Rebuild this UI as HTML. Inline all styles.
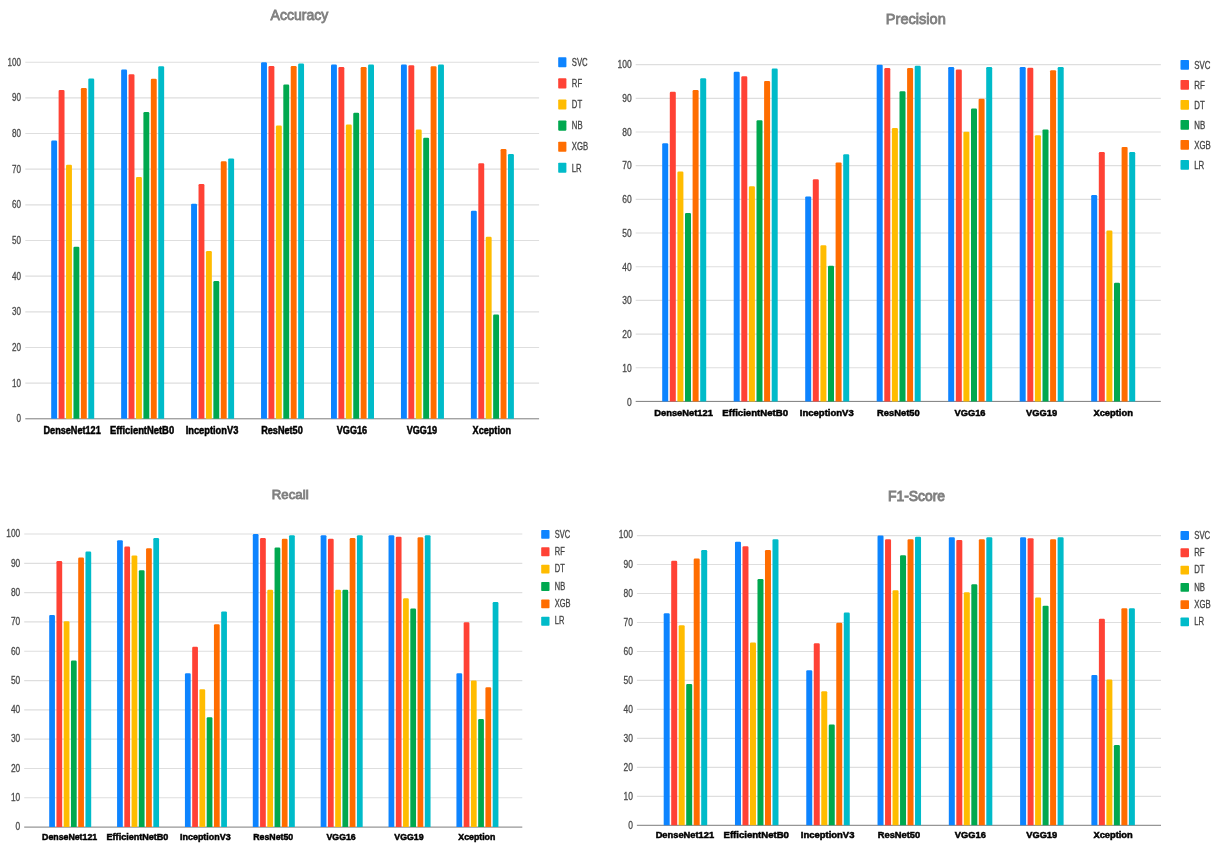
<!DOCTYPE html>
<html lang="en">
<head>
<meta charset="utf-8">
<title>Classifier metrics by backbone</title>
<style>
html,body{margin:0;padding:0;background:#fff;}
body{width:1217px;height:849px;overflow:hidden;}
svg{display:block;font-family:"Liberation Sans",Arial,Helvetica,sans-serif;}
.g{stroke:#dedede;stroke-width:1.15;}
.ax{stroke:#7c7c7c;stroke-width:1;}
.yl{fill:#4a4a4a;stroke:#4a4a4a;stroke-width:1.2;text-anchor:end;}
.xl{fill:#000;stroke:#000;stroke-width:1.9;font-weight:bold;text-anchor:middle;}
.lg{fill:#444;stroke:#444;stroke-width:1.2;}
.tt{fill:#808080;stroke:#808080;text-anchor:middle;}
</style>
</head>
<body>
<svg width="1217" height="849" viewBox="0 0 1217 849">
<defs><filter id="soft" x="-2%" y="-2%" width="104%" height="104%"><feGaussianBlur stdDeviation="0.6"/></filter></defs>
<rect width="1217" height="849" fill="#fff"/>
<g filter="url(#soft)">
<g>
<text class="tt" font-size="61.6" stroke-width="3.45" transform="translate(299.4 19.8) scale(0.2282 0.2500)">Accuracy</text>
<line class="ax" x1="25.3" x2="539.1" y1="418.8" y2="418.8"/><text class="yl" font-size="42" transform="translate(21.1 422.2) scale(0.1925 0.2500)">0</text>
<line class="g" x1="25.3" x2="539.1" y1="383.14" y2="383.14"/><text class="yl" font-size="42" transform="translate(21.1 386.56) scale(0.1925 0.2500)">10</text>
<line class="g" x1="25.3" x2="539.1" y1="347.48" y2="347.48"/><text class="yl" font-size="42" transform="translate(21.1 350.93) scale(0.1925 0.2500)">20</text>
<line class="g" x1="25.3" x2="539.1" y1="311.82" y2="311.82"/><text class="yl" font-size="42" transform="translate(21.1 315.29) scale(0.1925 0.2500)">30</text>
<line class="g" x1="25.3" x2="539.1" y1="276.16" y2="276.16"/><text class="yl" font-size="42" transform="translate(21.1 279.66) scale(0.1925 0.2500)">40</text>
<line class="g" x1="25.3" x2="539.1" y1="240.5" y2="240.5"/><text class="yl" font-size="42" transform="translate(21.1 244.03) scale(0.1925 0.2500)">50</text>
<line class="g" x1="25.3" x2="539.1" y1="204.84" y2="204.84"/><text class="yl" font-size="42" transform="translate(21.1 208.39) scale(0.1925 0.2500)">60</text>
<line class="g" x1="25.3" x2="539.1" y1="169.18" y2="169.18"/><text class="yl" font-size="42" transform="translate(21.1 172.75) scale(0.1925 0.2500)">70</text>
<line class="g" x1="25.3" x2="539.1" y1="133.52" y2="133.52"/><text class="yl" font-size="42" transform="translate(21.1 137.12) scale(0.1925 0.2500)">80</text>
<line class="g" x1="25.3" x2="539.1" y1="97.86" y2="97.86"/><text class="yl" font-size="42" transform="translate(21.1 101.49) scale(0.1925 0.2500)">90</text>
<line class="g" x1="25.3" x2="539.1" y1="62.2" y2="62.2"/><text class="yl" font-size="42" transform="translate(21.1 65.85) scale(0.1925 0.2500)">100</text>
<path fill="#0d84ff" d="M51.2 418.8V141.75Q51.2 140.55 52.4 140.55H55.9Q57.1 140.55 57.1 141.75V418.8Z"/><path fill="#ff4336" d="M58.62 418.8V91.11Q58.62 89.91 59.82 89.91H63.32Q64.52 89.91 64.52 91.11V418.8Z"/><path fill="#ffbc00" d="M66.04 418.8V165.99Q66.04 164.79 67.24 164.79H70.74Q71.94 164.79 71.94 165.99V418.8Z"/><path fill="#00a84f" d="M73.46 418.8V248.01Q73.46 246.81 74.66 246.81H78.16Q79.36 246.81 79.36 248.01V418.8Z"/><path fill="#ff6d00" d="M80.88 418.8V89.32Q80.88 88.12 82.08 88.12H85.58Q86.78 88.12 86.78 89.32V418.8Z"/><path fill="#00bbc9" d="M88.3 418.8V79.7Q88.3 78.5 89.5 78.5H93Q94.2 78.5 94.2 79.7V418.8Z"/>
<path fill="#0d84ff" d="M121.15 418.8V70.78Q121.15 69.58 122.35 69.58H125.85Q127.05 69.58 127.05 70.78V418.8Z"/><path fill="#ff4336" d="M128.57 418.8V75.42Q128.57 74.22 129.77 74.22H133.27Q134.47 74.22 134.47 75.42V418.8Z"/><path fill="#ffbc00" d="M135.99 418.8V178.12Q135.99 176.92 137.19 176.92H140.69Q141.89 176.92 141.89 178.12V418.8Z"/><path fill="#00a84f" d="M143.41 418.8V113.22Q143.41 112.02 144.61 112.02H148.11Q149.31 112.02 149.31 113.22V418.8Z"/><path fill="#ff6d00" d="M150.83 418.8V80.05Q150.83 78.85 152.03 78.85H155.53Q156.73 78.85 156.73 80.05V418.8Z"/><path fill="#00bbc9" d="M158.25 418.8V67.57Q158.25 66.37 159.45 66.37H162.95Q164.15 66.37 164.15 67.57V418.8Z"/>
<path fill="#0d84ff" d="M191.1 418.8V204.86Q191.1 203.66 192.3 203.66H195.8Q197 203.66 197 204.86V418.8Z"/><path fill="#ff4336" d="M198.52 418.8V185.25Q198.52 184.05 199.72 184.05H203.22Q204.42 184.05 204.42 185.25V418.8Z"/><path fill="#ffbc00" d="M205.94 418.8V252.29Q205.94 251.09 207.14 251.09H210.64Q211.84 251.09 211.84 252.29V418.8Z"/><path fill="#00a84f" d="M213.36 418.8V282.25Q213.36 281.05 214.56 281.05H218.06Q219.26 281.05 219.26 282.25V418.8Z"/><path fill="#ff6d00" d="M220.78 418.8V162.43Q220.78 161.23 221.98 161.23H225.48Q226.68 161.23 226.68 162.43V418.8Z"/><path fill="#00bbc9" d="M228.2 418.8V159.58Q228.2 158.38 229.4 158.38H232.9Q234.1 158.38 234.1 159.58V418.8Z"/>
<path fill="#0d84ff" d="M261.05 418.8V63.4Q261.05 62.2 262.25 62.2H265.75Q266.95 62.2 266.95 63.4V418.8Z"/><path fill="#ff4336" d="M268.47 418.8V67.14Q268.47 65.94 269.67 65.94H273.17Q274.37 65.94 274.37 67.14V418.8Z"/><path fill="#ffbc00" d="M275.89 418.8V126.77Q275.89 125.57 277.09 125.57H280.59Q281.79 125.57 281.79 126.77V418.8Z"/><path fill="#00a84f" d="M283.31 418.8V85.69Q283.31 84.49 284.51 84.49H288.01Q289.21 84.49 289.21 85.69V418.8Z"/><path fill="#ff6d00" d="M290.73 418.8V67.14Q290.73 65.94 291.93 65.94H295.43Q296.63 65.94 296.63 67.14V418.8Z"/><path fill="#00bbc9" d="M298.15 418.8V64.65Q298.15 63.45 299.35 63.45H302.85Q304.05 63.45 304.05 64.65V418.8Z"/>
<path fill="#0d84ff" d="M331 418.8V65.79Q331 64.59 332.2 64.59H335.7Q336.9 64.59 336.9 65.79V418.8Z"/><path fill="#ff4336" d="M338.42 418.8V68.29Q338.42 67.09 339.62 67.09H343.12Q344.32 67.09 344.32 68.29V418.8Z"/><path fill="#ffbc00" d="M345.84 418.8V125.7Q345.84 124.5 347.04 124.5H350.54Q351.74 124.5 351.74 125.7V418.8Z"/><path fill="#00a84f" d="M353.26 418.8V113.93Q353.26 112.73 354.46 112.73H357.96Q359.16 112.73 359.16 113.93V418.8Z"/><path fill="#ff6d00" d="M360.68 418.8V68.29Q360.68 67.09 361.88 67.09H365.38Q366.58 67.09 366.58 68.29V418.8Z"/><path fill="#00bbc9" d="M368.1 418.8V65.79Q368.1 64.59 369.3 64.59H372.8Q374 64.59 374 65.79V418.8Z"/>
<path fill="#0d84ff" d="M400.95 418.8V65.79Q400.95 64.59 402.15 64.59H405.65Q406.85 64.59 406.85 65.79V418.8Z"/><path fill="#ff4336" d="M408.37 418.8V66.5Q408.37 65.3 409.57 65.3H413.07Q414.27 65.3 414.27 66.5V418.8Z"/><path fill="#ffbc00" d="M415.79 418.8V130.69Q415.79 129.49 416.99 129.49H420.49Q421.69 129.49 421.69 130.69V418.8Z"/><path fill="#00a84f" d="M423.21 418.8V138.89Q423.21 137.69 424.41 137.69H427.91Q429.11 137.69 429.11 138.89V418.8Z"/><path fill="#ff6d00" d="M430.63 418.8V67.57Q430.63 66.37 431.83 66.37H435.33Q436.53 66.37 436.53 67.57V418.8Z"/><path fill="#00bbc9" d="M438.05 418.8V65.79Q438.05 64.59 439.25 64.59H442.75Q443.95 64.59 443.95 65.79V418.8Z"/>
<path fill="#0d84ff" d="M470.9 418.8V212Q470.9 210.8 472.1 210.8H475.6Q476.8 210.8 476.8 212V418.8Z"/><path fill="#ff4336" d="M478.32 418.8V164.57Q478.32 163.37 479.52 163.37H483.02Q484.22 163.37 484.22 164.57V418.8Z"/><path fill="#ffbc00" d="M485.74 418.8V238.03Q485.74 236.83 486.94 236.83H490.44Q491.64 236.83 491.64 238.03V418.8Z"/><path fill="#00a84f" d="M493.16 418.8V315.77Q493.16 314.57 494.36 314.57H497.86Q499.06 314.57 499.06 315.77V418.8Z"/><path fill="#ff6d00" d="M500.58 418.8V150.3Q500.58 149.1 501.78 149.1H505.28Q506.48 149.1 506.48 150.3V418.8Z"/><path fill="#00bbc9" d="M508 418.8V155.3Q508 154.1 509.2 154.1H512.7Q513.9 154.1 513.9 155.3V418.8Z"/>
<text class="xl" font-size="40" transform="translate(72.1 433.6) scale(0.2281 0.2500)">DenseNet121</text>
<text class="xl" font-size="40" transform="translate(142.05 433.6) scale(0.2349 0.2500)">EfficientNetB0</text>
<text class="xl" font-size="40" transform="translate(212 433.6) scale(0.2322 0.2500)">InceptionV3</text>
<text class="xl" font-size="40" transform="translate(281.95 433.6) scale(0.2281 0.2500)">ResNet50</text>
<text class="xl" font-size="40" transform="translate(351.9 433.6) scale(0.2281 0.2500)">VGG16</text>
<text class="xl" font-size="40" transform="translate(421.85 433.6) scale(0.2281 0.2500)">VGG19</text>
<text class="xl" font-size="40" transform="translate(491.8 433.6) scale(0.2281 0.2500)">Xception</text>
<rect x="558.2" y="57.25" width="8.2" height="10.1" rx="0.8" fill="#0d84ff"/><text class="lg" font-size="41.6" transform="translate(571.8 66) scale(0.1859 0.2500)">SVC</text>
<rect x="558.2" y="78.35" width="8.2" height="10.1" rx="0.8" fill="#ff4336"/><text class="lg" font-size="41.6" transform="translate(571.8 87.1) scale(0.1859 0.2500)">RF</text>
<rect x="558.2" y="99.45" width="8.2" height="10.1" rx="0.8" fill="#ffbc00"/><text class="lg" font-size="41.6" transform="translate(571.8 108.2) scale(0.1859 0.2500)">DT</text>
<rect x="558.2" y="120.55" width="8.2" height="10.1" rx="0.8" fill="#00a84f"/><text class="lg" font-size="41.6" transform="translate(571.8 129.3) scale(0.1859 0.2500)">NB</text>
<rect x="558.2" y="141.65" width="8.2" height="10.1" rx="0.8" fill="#ff6d00"/><text class="lg" font-size="41.6" transform="translate(571.8 150.4) scale(0.1859 0.2500)">XGB</text>
<rect x="558.2" y="162.75" width="8.2" height="10.1" rx="0.8" fill="#00bbc9"/><text class="lg" font-size="41.6" transform="translate(571.8 171.5) scale(0.1859 0.2500)">LR</text>
</g>
<g>
<text class="tt" font-size="59.2" stroke-width="3.32" transform="translate(915.8 24.3) scale(0.2468 0.2500)">Precision</text>
<line class="ax" x1="635.7" x2="1160.8" y1="401.4" y2="401.4"/><text class="yl" font-size="41.6" transform="translate(631.6 405.6) scale(0.2037 0.2500)">0</text>
<line class="g" x1="635.7" x2="1160.8" y1="367.72" y2="367.72"/><text class="yl" font-size="41.6" transform="translate(631.6 371.85) scale(0.2037 0.2500)">10</text>
<line class="g" x1="635.7" x2="1160.8" y1="334.05" y2="334.05"/><text class="yl" font-size="41.6" transform="translate(631.6 338.1) scale(0.2037 0.2500)">20</text>
<line class="g" x1="635.7" x2="1160.8" y1="300.38" y2="300.38"/><text class="yl" font-size="41.6" transform="translate(631.6 304.35) scale(0.2037 0.2500)">30</text>
<line class="g" x1="635.7" x2="1160.8" y1="266.7" y2="266.7"/><text class="yl" font-size="41.6" transform="translate(631.6 270.6) scale(0.2037 0.2500)">40</text>
<line class="g" x1="635.7" x2="1160.8" y1="233.02" y2="233.02"/><text class="yl" font-size="41.6" transform="translate(631.6 236.85) scale(0.2037 0.2500)">50</text>
<line class="g" x1="635.7" x2="1160.8" y1="199.35" y2="199.35"/><text class="yl" font-size="41.6" transform="translate(631.6 203.1) scale(0.2037 0.2500)">60</text>
<line class="g" x1="635.7" x2="1160.8" y1="165.67" y2="165.67"/><text class="yl" font-size="41.6" transform="translate(631.6 169.35) scale(0.2037 0.2500)">70</text>
<line class="g" x1="635.7" x2="1160.8" y1="132" y2="132"/><text class="yl" font-size="41.6" transform="translate(631.6 135.6) scale(0.2037 0.2500)">80</text>
<line class="g" x1="635.7" x2="1160.8" y1="98.32" y2="98.32"/><text class="yl" font-size="41.6" transform="translate(631.6 101.85) scale(0.2037 0.2500)">90</text>
<line class="g" x1="635.7" x2="1160.8" y1="64.65" y2="64.65"/><text class="yl" font-size="41.6" transform="translate(631.6 68.1) scale(0.2037 0.2500)">100</text>
<path fill="#0d84ff" d="M662.2 401.4V144.41Q662.2 143.21 663.4 143.21H667Q668.2 143.21 668.2 144.41V401.4Z"/><path fill="#ff4336" d="M669.8 401.4V92.89Q669.8 91.69 671 91.69H674.6Q675.8 91.69 675.8 92.89V401.4Z"/><path fill="#ffbc00" d="M677.4 401.4V172.7Q677.4 171.5 678.6 171.5H682.2Q683.4 171.5 683.4 172.7V401.4Z"/><path fill="#00a84f" d="M685 401.4V214.12Q685 212.92 686.2 212.92H689.8Q691 212.92 691 214.12V401.4Z"/><path fill="#ff6d00" d="M692.6 401.4V91.21Q692.6 90.01 693.8 90.01H697.4Q698.6 90.01 698.6 91.21V401.4Z"/><path fill="#00bbc9" d="M700.2 401.4V79.42Q700.2 78.22 701.4 78.22H705Q706.2 78.22 706.2 79.42V401.4Z"/>
<path fill="#0d84ff" d="M733.7 401.4V73.02Q733.7 71.82 734.9 71.82H738.5Q739.7 71.82 739.7 73.02V401.4Z"/><path fill="#ff4336" d="M741.3 401.4V77.4Q741.3 76.2 742.5 76.2H746.1Q747.3 76.2 747.3 77.4V401.4Z"/><path fill="#ffbc00" d="M748.9 401.4V187.52Q748.9 186.32 750.1 186.32H753.7Q754.9 186.32 754.9 187.52V401.4Z"/><path fill="#00a84f" d="M756.5 401.4V121.51Q756.5 120.31 757.7 120.31H761.3Q762.5 120.31 762.5 121.51V401.4Z"/><path fill="#ff6d00" d="M764.1 401.4V82.12Q764.1 80.92 765.3 80.92H768.9Q770.1 80.92 770.1 82.12V401.4Z"/><path fill="#00bbc9" d="M771.7 401.4V69.66Q771.7 68.46 772.9 68.46H776.5Q777.7 68.46 777.7 69.66V401.4Z"/>
<path fill="#0d84ff" d="M805.2 401.4V197.62Q805.2 196.42 806.4 196.42H810Q811.2 196.42 811.2 197.62V401.4Z"/><path fill="#ff4336" d="M812.8 401.4V180.45Q812.8 179.25 814 179.25H817.6Q818.8 179.25 818.8 180.45V401.4Z"/><path fill="#ffbc00" d="M820.4 401.4V246.45Q820.4 245.25 821.6 245.25H825.2Q826.4 245.25 826.4 246.45V401.4Z"/><path fill="#00a84f" d="M828 401.4V266.99Q828 265.79 829.2 265.79H832.8Q834 265.79 834 266.99V401.4Z"/><path fill="#ff6d00" d="M835.6 401.4V163.61Q835.6 162.41 836.8 162.41H840.4Q841.6 162.41 841.6 163.61V401.4Z"/><path fill="#00bbc9" d="M843.2 401.4V155.53Q843.2 154.33 844.4 154.33H848Q849.2 154.33 849.2 155.53V401.4Z"/>
<path fill="#0d84ff" d="M876.7 401.4V65.85Q876.7 64.65 877.9 64.65H881.5Q882.7 64.65 882.7 65.85V401.4Z"/><path fill="#ff4336" d="M884.3 401.4V69.32Q884.3 68.12 885.5 68.12H889.1Q890.3 68.12 890.3 69.32V401.4Z"/><path fill="#ffbc00" d="M891.9 401.4V129.26Q891.9 128.06 893.1 128.06H896.7Q897.9 128.06 897.9 129.26V401.4Z"/><path fill="#00a84f" d="M899.5 401.4V92.55Q899.5 91.35 900.7 91.35H904.3Q905.5 91.35 905.5 92.55V401.4Z"/><path fill="#ff6d00" d="M907.1 401.4V69.32Q907.1 68.12 908.3 68.12H911.9Q913.1 68.12 913.1 69.32V401.4Z"/><path fill="#00bbc9" d="M914.7 401.4V66.96Q914.7 65.76 915.9 65.76H919.5Q920.7 65.76 920.7 66.96V401.4Z"/>
<path fill="#0d84ff" d="M948.2 401.4V68.31Q948.2 67.11 949.4 67.11H953Q954.2 67.11 954.2 68.31V401.4Z"/><path fill="#ff4336" d="M955.8 401.4V70.67Q955.8 69.47 957 69.47H960.6Q961.8 69.47 961.8 70.67V401.4Z"/><path fill="#ffbc00" d="M963.4 401.4V132.96Q963.4 131.76 964.6 131.76H968.2Q969.4 131.76 969.4 132.96V401.4Z"/><path fill="#00a84f" d="M971 401.4V109.73Q971 108.53 972.2 108.53H975.8Q977 108.53 977 109.73V401.4Z"/><path fill="#ff6d00" d="M978.6 401.4V99.96Q978.6 98.76 979.8 98.76H983.4Q984.6 98.76 984.6 99.96V401.4Z"/><path fill="#00bbc9" d="M986.2 401.4V68.31Q986.2 67.11 987.4 67.11H991Q992.2 67.11 992.2 68.31V401.4Z"/>
<path fill="#0d84ff" d="M1019.7 401.4V68.31Q1019.7 67.11 1020.9 67.11H1024.5Q1025.7 67.11 1025.7 68.31V401.4Z"/><path fill="#ff4336" d="M1027.3 401.4V68.98Q1027.3 67.78 1028.5 67.78H1032.1Q1033.3 67.78 1033.3 68.98V401.4Z"/><path fill="#ffbc00" d="M1034.9 401.4V136.33Q1034.9 135.13 1036.1 135.13H1039.7Q1040.9 135.13 1040.9 136.33V401.4Z"/><path fill="#00a84f" d="M1042.5 401.4V130.61Q1042.5 129.41 1043.7 129.41H1047.3Q1048.5 129.41 1048.5 130.61V401.4Z"/><path fill="#ff6d00" d="M1050.1 401.4V71.34Q1050.1 70.14 1051.3 70.14H1054.9Q1056.1 70.14 1056.1 71.34V401.4Z"/><path fill="#00bbc9" d="M1057.7 401.4V68.31Q1057.7 67.11 1058.9 67.11H1062.5Q1063.7 67.11 1063.7 68.31V401.4Z"/>
<path fill="#0d84ff" d="M1091.2 401.4V196.27Q1091.2 195.07 1092.4 195.07H1096Q1097.2 195.07 1097.2 196.27V401.4Z"/><path fill="#ff4336" d="M1098.8 401.4V153.17Q1098.8 151.97 1100 151.97H1103.6Q1104.8 151.97 1104.8 153.17V401.4Z"/><path fill="#ffbc00" d="M1106.4 401.4V231.63Q1106.4 230.43 1107.6 230.43H1111.2Q1112.4 230.43 1112.4 231.63V401.4Z"/><path fill="#00a84f" d="M1114 401.4V283.83Q1114 282.63 1115.2 282.63H1118.8Q1120 282.63 1120 283.83V401.4Z"/><path fill="#ff6d00" d="M1121.6 401.4V148.12Q1121.6 146.92 1122.8 146.92H1126.4Q1127.6 146.92 1127.6 148.12V401.4Z"/><path fill="#00bbc9" d="M1129.2 401.4V153.17Q1129.2 151.97 1130.4 151.97H1134Q1135.2 151.97 1135.2 153.17V401.4Z"/>
<text class="xl" font-size="36" transform="translate(683.6 416.1) scale(0.2596 0.2500)">DenseNet121</text>
<text class="xl" font-size="36" transform="translate(755.19 416.1) scale(0.2674 0.2500)">EfficientNetB0</text>
<text class="xl" font-size="36" transform="translate(826.78 416.1) scale(0.2643 0.2500)">InceptionV3</text>
<text class="xl" font-size="36" transform="translate(898.37 416.1) scale(0.2596 0.2500)">ResNet50</text>
<text class="xl" font-size="36" transform="translate(969.96 416.1) scale(0.2596 0.2500)">VGG16</text>
<text class="xl" font-size="36" transform="translate(1041.55 416.1) scale(0.2596 0.2500)">VGG19</text>
<text class="xl" font-size="36" transform="translate(1113.14 416.1) scale(0.2596 0.2500)">Xception</text>
<rect x="1180.5" y="59.95" width="8.5" height="9.9" rx="0.8" fill="#0d84ff"/><text class="lg" font-size="41.6" transform="translate(1194.2 68.8) scale(0.1894 0.2500)">SVC</text>
<rect x="1180.5" y="79.95" width="8.5" height="9.9" rx="0.8" fill="#ff4336"/><text class="lg" font-size="41.6" transform="translate(1194.2 88.8) scale(0.1894 0.2500)">RF</text>
<rect x="1180.5" y="99.95" width="8.5" height="9.9" rx="0.8" fill="#ffbc00"/><text class="lg" font-size="41.6" transform="translate(1194.2 108.8) scale(0.1894 0.2500)">DT</text>
<rect x="1180.5" y="119.95" width="8.5" height="9.9" rx="0.8" fill="#00a84f"/><text class="lg" font-size="41.6" transform="translate(1194.2 128.8) scale(0.1894 0.2500)">NB</text>
<rect x="1180.5" y="139.95" width="8.5" height="9.9" rx="0.8" fill="#ff6d00"/><text class="lg" font-size="41.6" transform="translate(1194.2 148.8) scale(0.1894 0.2500)">XGB</text>
<rect x="1180.5" y="159.95" width="8.5" height="9.9" rx="0.8" fill="#00bbc9"/><text class="lg" font-size="41.6" transform="translate(1194.2 168.8) scale(0.1894 0.2500)">LR</text>
</g>
<g>
<text class="tt" font-size="51.6" stroke-width="3.41" transform="translate(290.2 499.15) scale(0.2566 0.2500)">Recall</text>
<line class="ax" x1="24.2" x2="522.3" y1="827.1" y2="827.1"/><text class="yl" font-size="41.2" transform="translate(20.2 830.35) scale(0.2025 0.2500)">0</text>
<line class="g" x1="24.2" x2="522.3" y1="797.79" y2="797.79"/><text class="yl" font-size="41.2" transform="translate(20.2 801.04) scale(0.2025 0.2500)">10</text>
<line class="g" x1="24.2" x2="522.3" y1="768.48" y2="768.48"/><text class="yl" font-size="41.2" transform="translate(20.2 771.74) scale(0.2025 0.2500)">20</text>
<line class="g" x1="24.2" x2="522.3" y1="739.17" y2="739.17"/><text class="yl" font-size="41.2" transform="translate(20.2 742.44) scale(0.2025 0.2500)">30</text>
<line class="g" x1="24.2" x2="522.3" y1="709.86" y2="709.86"/><text class="yl" font-size="41.2" transform="translate(20.2 713.13) scale(0.2025 0.2500)">40</text>
<line class="g" x1="24.2" x2="522.3" y1="680.55" y2="680.55"/><text class="yl" font-size="41.2" transform="translate(20.2 683.82) scale(0.2025 0.2500)">50</text>
<line class="g" x1="24.2" x2="522.3" y1="651.24" y2="651.24"/><text class="yl" font-size="41.2" transform="translate(20.2 654.52) scale(0.2025 0.2500)">60</text>
<line class="g" x1="24.2" x2="522.3" y1="621.93" y2="621.93"/><text class="yl" font-size="41.2" transform="translate(20.2 625.22) scale(0.2025 0.2500)">70</text>
<line class="g" x1="24.2" x2="522.3" y1="592.62" y2="592.62"/><text class="yl" font-size="41.2" transform="translate(20.2 595.91) scale(0.2025 0.2500)">80</text>
<line class="g" x1="24.2" x2="522.3" y1="563.31" y2="563.31"/><text class="yl" font-size="41.2" transform="translate(20.2 566.6) scale(0.2025 0.2500)">90</text>
<line class="g" x1="24.2" x2="522.3" y1="534" y2="534"/><text class="yl" font-size="41.2" transform="translate(20.2 537.3) scale(0.2025 0.2500)">100</text>
<path fill="#0d84ff" d="M49.2 827.1V616.1Q49.2 614.9 50.4 614.9H53.75Q54.95 614.9 54.95 616.1V827.1Z"/><path fill="#ff4336" d="M56.45 827.1V562.17Q56.45 560.97 57.65 560.97H61Q62.2 560.97 62.2 562.17V827.1Z"/><path fill="#ffbc00" d="M63.7 827.1V622.54Q63.7 621.34 64.9 621.34H68.25Q69.45 621.34 69.45 622.54V827.1Z"/><path fill="#00a84f" d="M70.95 827.1V661.82Q70.95 660.62 72.15 660.62H75.5Q76.7 660.62 76.7 661.82V827.1Z"/><path fill="#ff6d00" d="M78.2 827.1V558.65Q78.2 557.45 79.4 557.45H82.75Q83.95 557.45 83.95 558.65V827.1Z"/><path fill="#00bbc9" d="M85.45 827.1V552.79Q85.45 551.59 86.65 551.59H90Q91.2 551.59 91.2 552.79V827.1Z"/>
<path fill="#0d84ff" d="M117.07 827.1V541.36Q117.07 540.16 118.27 540.16H121.62Q122.82 540.16 122.82 541.36V827.1Z"/><path fill="#ff4336" d="M124.32 827.1V547.8Q124.32 546.6 125.52 546.6H128.87Q130.07 546.6 130.07 547.8V827.1Z"/><path fill="#ffbc00" d="M131.57 827.1V556.6Q131.57 555.4 132.77 555.4H136.12Q137.32 555.4 137.32 556.6V827.1Z"/><path fill="#00a84f" d="M138.82 827.1V571.54Q138.82 570.34 140.02 570.34H143.37Q144.57 570.34 144.57 571.54V827.1Z"/><path fill="#ff6d00" d="M146.07 827.1V549.56Q146.07 548.36 147.27 548.36H150.62Q151.82 548.36 151.82 549.56V827.1Z"/><path fill="#00bbc9" d="M153.32 827.1V539.3Q153.32 538.1 154.52 538.1H157.87Q159.07 538.1 159.07 539.3V827.1Z"/>
<path fill="#0d84ff" d="M184.94 827.1V674.42Q184.94 673.22 186.14 673.22H189.49Q190.69 673.22 190.69 674.42V827.1Z"/><path fill="#ff4336" d="M192.19 827.1V648.04Q192.19 646.84 193.39 646.84H196.74Q197.94 646.84 197.94 648.04V827.1Z"/><path fill="#ffbc00" d="M199.44 827.1V690.54Q199.44 689.34 200.64 689.34H203.99Q205.19 689.34 205.19 690.54V827.1Z"/><path fill="#00a84f" d="M206.69 827.1V718.39Q206.69 717.19 207.89 717.19H211.24Q212.44 717.19 212.44 718.39V827.1Z"/><path fill="#ff6d00" d="M213.94 827.1V625.47Q213.94 624.27 215.14 624.27H218.49Q219.69 624.27 219.69 625.47V827.1Z"/><path fill="#00bbc9" d="M221.19 827.1V612.58Q221.19 611.38 222.39 611.38H225.74Q226.94 611.38 226.94 612.58V827.1Z"/>
<path fill="#0d84ff" d="M252.81 827.1V535.2Q252.81 534 254.01 534H257.36Q258.56 534 258.56 535.2V827.1Z"/><path fill="#ff4336" d="M260.06 827.1V539.3Q260.06 538.1 261.26 538.1H264.61Q265.81 538.1 265.81 539.3V827.1Z"/><path fill="#ffbc00" d="M267.31 827.1V590.89Q267.31 589.69 268.51 589.69H271.86Q273.06 589.69 273.06 590.89V827.1Z"/><path fill="#00a84f" d="M274.56 827.1V548.68Q274.56 547.48 275.76 547.48H279.11Q280.31 547.48 280.31 548.68V827.1Z"/><path fill="#ff6d00" d="M281.81 827.1V539.89Q281.81 538.69 283.01 538.69H286.36Q287.56 538.69 287.56 539.89V827.1Z"/><path fill="#00bbc9" d="M289.06 827.1V536.37Q289.06 535.17 290.26 535.17H293.61Q294.81 535.17 294.81 536.37V827.1Z"/>
<path fill="#0d84ff" d="M320.68 827.1V536.37Q320.68 535.17 321.88 535.17H325.23Q326.43 535.17 326.43 536.37V827.1Z"/><path fill="#ff4336" d="M327.93 827.1V539.89Q327.93 538.69 329.13 538.69H332.48Q333.68 538.69 333.68 539.89V827.1Z"/><path fill="#ffbc00" d="M335.18 827.1V590.89Q335.18 589.69 336.38 589.69H339.73Q340.93 589.69 340.93 590.89V827.1Z"/><path fill="#00a84f" d="M342.43 827.1V590.89Q342.43 589.69 343.63 589.69H346.98Q348.18 589.69 348.18 590.89V827.1Z"/><path fill="#ff6d00" d="M349.68 827.1V539.3Q349.68 538.1 350.88 538.1H354.23Q355.43 538.1 355.43 539.3V827.1Z"/><path fill="#00bbc9" d="M356.93 827.1V536.37Q356.93 535.17 358.13 535.17H361.48Q362.68 535.17 362.68 536.37V827.1Z"/>
<path fill="#0d84ff" d="M388.55 827.1V536.37Q388.55 535.17 389.75 535.17H393.1Q394.3 535.17 394.3 536.37V827.1Z"/><path fill="#ff4336" d="M395.8 827.1V537.84Q395.8 536.64 397 536.64H400.35Q401.55 536.64 401.55 537.84V827.1Z"/><path fill="#ffbc00" d="M403.05 827.1V599.39Q403.05 598.19 404.25 598.19H407.6Q408.8 598.19 408.8 599.39V827.1Z"/><path fill="#00a84f" d="M410.3 827.1V609.65Q410.3 608.45 411.5 608.45H414.85Q416.05 608.45 416.05 609.65V827.1Z"/><path fill="#ff6d00" d="M417.55 827.1V538.42Q417.55 537.22 418.75 537.22H422.1Q423.3 537.22 423.3 538.42V827.1Z"/><path fill="#00bbc9" d="M424.8 827.1V536.37Q424.8 535.17 426 535.17H429.35Q430.55 535.17 430.55 536.37V827.1Z"/>
<path fill="#0d84ff" d="M456.42 827.1V674.42Q456.42 673.22 457.62 673.22H460.97Q462.17 673.22 462.17 674.42V827.1Z"/><path fill="#ff4336" d="M463.67 827.1V623.42Q463.67 622.22 464.87 622.22H468.22Q469.42 622.22 469.42 623.42V827.1Z"/><path fill="#ffbc00" d="M470.92 827.1V681.75Q470.92 680.55 472.12 680.55H475.47Q476.67 680.55 476.67 681.75V827.1Z"/><path fill="#00a84f" d="M478.17 827.1V720.15Q478.17 718.95 479.37 718.95H482.72Q483.92 718.95 483.92 720.15V827.1Z"/><path fill="#ff6d00" d="M485.42 827.1V688.49Q485.42 687.29 486.62 687.29H489.97Q491.17 687.29 491.17 688.49V827.1Z"/><path fill="#00bbc9" d="M492.67 827.1V603.2Q492.67 602 493.87 602H497.22Q498.42 602 498.42 603.2V827.1Z"/>
<text class="xl" font-size="35.6" transform="translate(69.6 839.7) scale(0.2469 0.2500)">DenseNet121</text>
<text class="xl" font-size="35.6" transform="translate(137.47 839.7) scale(0.2543 0.2500)">EfficientNetB0</text>
<text class="xl" font-size="35.6" transform="translate(205.34 839.7) scale(0.2513 0.2500)">InceptionV3</text>
<text class="xl" font-size="35.6" transform="translate(273.21 839.7) scale(0.2469 0.2500)">ResNet50</text>
<text class="xl" font-size="35.6" transform="translate(341.08 839.7) scale(0.2469 0.2500)">VGG16</text>
<text class="xl" font-size="35.6" transform="translate(408.95 839.7) scale(0.2469 0.2500)">VGG19</text>
<text class="xl" font-size="35.6" transform="translate(476.82 839.7) scale(0.2469 0.2500)">Xception</text>
<rect x="541.2" y="529.95" width="8.3" height="8.9" rx="0.8" fill="#0d84ff"/><text class="lg" font-size="40" transform="translate(554.8 537.5) scale(0.1872 0.2500)">SVC</text>
<rect x="541.2" y="547.32" width="8.3" height="8.9" rx="0.8" fill="#ff4336"/><text class="lg" font-size="40" transform="translate(554.8 554.87) scale(0.1872 0.2500)">RF</text>
<rect x="541.2" y="564.69" width="8.3" height="8.9" rx="0.8" fill="#ffbc00"/><text class="lg" font-size="40" transform="translate(554.8 572.24) scale(0.1872 0.2500)">DT</text>
<rect x="541.2" y="582.06" width="8.3" height="8.9" rx="0.8" fill="#00a84f"/><text class="lg" font-size="40" transform="translate(554.8 589.61) scale(0.1872 0.2500)">NB</text>
<rect x="541.2" y="599.43" width="8.3" height="8.9" rx="0.8" fill="#ff6d00"/><text class="lg" font-size="40" transform="translate(554.8 606.98) scale(0.1872 0.2500)">XGB</text>
<rect x="541.2" y="616.8" width="8.3" height="8.9" rx="0.8" fill="#00bbc9"/><text class="lg" font-size="40" transform="translate(554.8 624.35) scale(0.1872 0.2500)">LR</text>
</g>
<g>
<text class="tt" font-size="57.2" stroke-width="3.78" transform="translate(916.5 501.3) scale(0.2432 0.2500)">F1-Score</text>
<line class="ax" x1="636.9" x2="1161" y1="825.3" y2="825.3"/><text class="yl" font-size="41.2" transform="translate(632.9 829.1) scale(0.2050 0.2500)">0</text>
<line class="g" x1="636.9" x2="1161" y1="796.32" y2="796.32"/><text class="yl" font-size="41.2" transform="translate(632.9 800.03) scale(0.2050 0.2500)">10</text>
<line class="g" x1="636.9" x2="1161" y1="767.35" y2="767.35"/><text class="yl" font-size="41.2" transform="translate(632.9 770.97) scale(0.2050 0.2500)">20</text>
<line class="g" x1="636.9" x2="1161" y1="738.38" y2="738.38"/><text class="yl" font-size="41.2" transform="translate(632.9 741.9) scale(0.2050 0.2500)">30</text>
<line class="g" x1="636.9" x2="1161" y1="709.4" y2="709.4"/><text class="yl" font-size="41.2" transform="translate(632.9 712.84) scale(0.2050 0.2500)">40</text>
<line class="g" x1="636.9" x2="1161" y1="680.42" y2="680.42"/><text class="yl" font-size="41.2" transform="translate(632.9 683.77) scale(0.2050 0.2500)">50</text>
<line class="g" x1="636.9" x2="1161" y1="651.45" y2="651.45"/><text class="yl" font-size="41.2" transform="translate(632.9 654.71) scale(0.2050 0.2500)">60</text>
<line class="g" x1="636.9" x2="1161" y1="622.47" y2="622.47"/><text class="yl" font-size="41.2" transform="translate(632.9 625.64) scale(0.2050 0.2500)">70</text>
<line class="g" x1="636.9" x2="1161" y1="593.5" y2="593.5"/><text class="yl" font-size="41.2" transform="translate(632.9 596.58) scale(0.2050 0.2500)">80</text>
<line class="g" x1="636.9" x2="1161" y1="564.52" y2="564.52"/><text class="yl" font-size="41.2" transform="translate(632.9 567.51) scale(0.2050 0.2500)">90</text>
<line class="g" x1="636.9" x2="1161" y1="535.55" y2="535.55"/><text class="yl" font-size="41.2" transform="translate(632.9 538.45) scale(0.2050 0.2500)">100</text>
<path fill="#0d84ff" d="M663.7 825.3V614.4Q663.7 613.2 664.9 613.2H668.5Q669.7 613.2 669.7 614.4V825.3Z"/><path fill="#ff4336" d="M671.2 825.3V561.96Q671.2 560.76 672.4 560.76H676Q677.2 560.76 677.2 561.96V825.3Z"/><path fill="#ffbc00" d="M678.7 825.3V626.57Q678.7 625.37 679.9 625.37H683.5Q684.7 625.37 684.7 626.57V825.3Z"/><path fill="#00a84f" d="M686.2 825.3V685.1Q686.2 683.9 687.4 683.9H691Q692.2 683.9 692.2 685.1V825.3Z"/><path fill="#ff6d00" d="M693.7 825.3V559.64Q693.7 558.44 694.9 558.44H698.5Q699.7 558.44 699.7 559.64V825.3Z"/><path fill="#00bbc9" d="M701.2 825.3V551.24Q701.2 550.04 702.4 550.04H706Q707.2 550.04 707.2 551.24V825.3Z"/>
<path fill="#0d84ff" d="M734.98 825.3V542.83Q734.98 541.63 736.18 541.63H739.78Q740.98 541.63 740.98 542.83V825.3Z"/><path fill="#ff4336" d="M742.48 825.3V547.47Q742.48 546.27 743.68 546.27H747.28Q748.48 546.27 748.48 547.47V825.3Z"/><path fill="#ffbc00" d="M749.98 825.3V643.67Q749.98 642.47 751.18 642.47H754.78Q755.98 642.47 755.98 643.67V825.3Z"/><path fill="#00a84f" d="M757.48 825.3V580.21Q757.48 579.01 758.68 579.01H762.28Q763.48 579.01 763.48 580.21V825.3Z"/><path fill="#ff6d00" d="M764.98 825.3V551.24Q764.98 550.04 766.18 550.04H769.78Q770.98 550.04 770.98 551.24V825.3Z"/><path fill="#00bbc9" d="M772.48 825.3V540.52Q772.48 539.32 773.68 539.32H777.28Q778.48 539.32 778.48 540.52V825.3Z"/>
<path fill="#0d84ff" d="M806.26 825.3V671.48Q806.26 670.28 807.46 670.28H811.06Q812.26 670.28 812.26 671.48V825.3Z"/><path fill="#ff4336" d="M813.76 825.3V644.54Q813.76 643.34 814.96 643.34H818.56Q819.76 643.34 819.76 644.54V825.3Z"/><path fill="#ffbc00" d="M821.26 825.3V692.35Q821.26 691.15 822.46 691.15H826.06Q827.26 691.15 827.26 692.35V825.3Z"/><path fill="#00a84f" d="M828.76 825.3V725.67Q828.76 724.47 829.96 724.47H833.56Q834.76 724.47 834.76 725.67V825.3Z"/><path fill="#ff6d00" d="M836.26 825.3V623.96Q836.26 622.76 837.46 622.76H841.06Q842.26 622.76 842.26 623.96V825.3Z"/><path fill="#00bbc9" d="M843.76 825.3V613.82Q843.76 612.62 844.96 612.62H848.56Q849.76 612.62 849.76 613.82V825.3Z"/>
<path fill="#0d84ff" d="M877.54 825.3V536.75Q877.54 535.55 878.74 535.55H882.34Q883.54 535.55 883.54 536.75V825.3Z"/><path fill="#ff4336" d="M885.04 825.3V540.52Q885.04 539.32 886.24 539.32H889.84Q891.04 539.32 891.04 540.52V825.3Z"/><path fill="#ffbc00" d="M892.54 825.3V591.51Q892.54 590.31 893.74 590.31H897.34Q898.54 590.31 898.54 591.51V825.3Z"/><path fill="#00a84f" d="M900.04 825.3V556.45Q900.04 555.25 901.24 555.25H904.84Q906.04 555.25 906.04 556.45V825.3Z"/><path fill="#ff6d00" d="M907.54 825.3V540.52Q907.54 539.32 908.74 539.32H912.34Q913.54 539.32 913.54 540.52V825.3Z"/><path fill="#00bbc9" d="M915.04 825.3V537.91Q915.04 536.71 916.24 536.71H919.84Q921.04 536.71 921.04 537.91V825.3Z"/>
<path fill="#0d84ff" d="M948.82 825.3V538.49Q948.82 537.29 950.02 537.29H953.62Q954.82 537.29 954.82 538.49V825.3Z"/><path fill="#ff4336" d="M956.32 825.3V541.1Q956.32 539.9 957.52 539.9H961.12Q962.32 539.9 962.32 541.1V825.3Z"/><path fill="#ffbc00" d="M963.82 825.3V593.54Q963.82 592.34 965.02 592.34H968.62Q969.82 592.34 969.82 593.54V825.3Z"/><path fill="#00a84f" d="M971.32 825.3V585.43Q971.32 584.23 972.52 584.23H976.12Q977.32 584.23 977.32 585.43V825.3Z"/><path fill="#ff6d00" d="M978.82 825.3V540.52Q978.82 539.32 980.02 539.32H983.62Q984.82 539.32 984.82 540.52V825.3Z"/><path fill="#00bbc9" d="M986.32 825.3V538.49Q986.32 537.29 987.52 537.29H991.12Q992.32 537.29 992.32 538.49V825.3Z"/>
<path fill="#0d84ff" d="M1020.1 825.3V538.49Q1020.1 537.29 1021.3 537.29H1024.9Q1026.1 537.29 1026.1 538.49V825.3Z"/><path fill="#ff4336" d="M1027.6 825.3V539.36Q1027.6 538.16 1028.8 538.16H1032.4Q1033.6 538.16 1033.6 539.36V825.3Z"/><path fill="#ffbc00" d="M1035.1 825.3V598.76Q1035.1 597.56 1036.3 597.56H1039.9Q1041.1 597.56 1041.1 598.76V825.3Z"/><path fill="#00a84f" d="M1042.6 825.3V606.87Q1042.6 605.67 1043.8 605.67H1047.4Q1048.6 605.67 1048.6 606.87V825.3Z"/><path fill="#ff6d00" d="M1050.1 825.3V540.52Q1050.1 539.32 1051.3 539.32H1054.9Q1056.1 539.32 1056.1 540.52V825.3Z"/><path fill="#00bbc9" d="M1057.6 825.3V538.49Q1057.6 537.29 1058.8 537.29H1062.4Q1063.6 537.29 1063.6 538.49V825.3Z"/>
<path fill="#0d84ff" d="M1091.38 825.3V676.12Q1091.38 674.92 1092.58 674.92H1096.18Q1097.38 674.92 1097.38 676.12V825.3Z"/><path fill="#ff4336" d="M1098.88 825.3V619.91Q1098.88 618.71 1100.08 618.71H1103.68Q1104.88 618.71 1104.88 619.91V825.3Z"/><path fill="#ffbc00" d="M1106.38 825.3V680.76Q1106.38 679.56 1107.58 679.56H1111.18Q1112.38 679.56 1112.38 680.76V825.3Z"/><path fill="#00a84f" d="M1113.88 825.3V746.24Q1113.88 745.04 1115.08 745.04H1118.68Q1119.88 745.04 1119.88 746.24V825.3Z"/><path fill="#ff6d00" d="M1121.38 825.3V609.48Q1121.38 608.28 1122.58 608.28H1126.18Q1127.38 608.28 1127.38 609.48V825.3Z"/><path fill="#00bbc9" d="M1128.88 825.3V609.48Q1128.88 608.28 1130.08 608.28H1133.68Q1134.88 608.28 1134.88 609.48V825.3Z"/>
<text class="xl" font-size="35.2" transform="translate(684.85 837.9) scale(0.2646 0.2500)">DenseNet121</text>
<text class="xl" font-size="35.2" transform="translate(756.22 837.9) scale(0.2725 0.2500)">EfficientNetB0</text>
<text class="xl" font-size="35.2" transform="translate(827.59 837.9) scale(0.2693 0.2500)">InceptionV3</text>
<text class="xl" font-size="35.2" transform="translate(898.96 837.9) scale(0.2646 0.2500)">ResNet50</text>
<text class="xl" font-size="35.2" transform="translate(970.33 837.9) scale(0.2646 0.2500)">VGG16</text>
<text class="xl" font-size="35.2" transform="translate(1041.7 837.9) scale(0.2646 0.2500)">VGG19</text>
<text class="xl" font-size="35.2" transform="translate(1113.07 837.9) scale(0.2646 0.2500)">Xception</text>
<rect x="1180.5" y="531.1" width="8.5" height="8.8" rx="0.8" fill="#0d84ff"/><text class="lg" font-size="40.8" transform="translate(1194.2 538.85) scale(0.1907 0.2500)">SVC</text>
<rect x="1180.5" y="548.37" width="8.5" height="8.8" rx="0.8" fill="#ff4336"/><text class="lg" font-size="40.8" transform="translate(1194.2 556.12) scale(0.1907 0.2500)">RF</text>
<rect x="1180.5" y="565.64" width="8.5" height="8.8" rx="0.8" fill="#ffbc00"/><text class="lg" font-size="40.8" transform="translate(1194.2 573.39) scale(0.1907 0.2500)">DT</text>
<rect x="1180.5" y="582.91" width="8.5" height="8.8" rx="0.8" fill="#00a84f"/><text class="lg" font-size="40.8" transform="translate(1194.2 590.66) scale(0.1907 0.2500)">NB</text>
<rect x="1180.5" y="600.18" width="8.5" height="8.8" rx="0.8" fill="#ff6d00"/><text class="lg" font-size="40.8" transform="translate(1194.2 607.93) scale(0.1907 0.2500)">XGB</text>
<rect x="1180.5" y="617.45" width="8.5" height="8.8" rx="0.8" fill="#00bbc9"/><text class="lg" font-size="40.8" transform="translate(1194.2 625.2) scale(0.1907 0.2500)">LR</text>
</g>
</g>
</svg>
</body>
</html>
